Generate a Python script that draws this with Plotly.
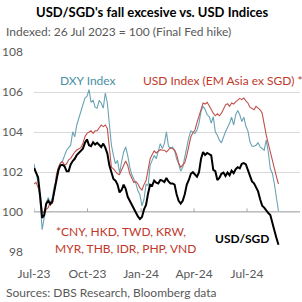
import plotly.graph_objects as go
import pandas as pd

# Observation dates: every 3.5 days starting 1 Jul 2023
dates = pd.date_range("2023-07-01", periods=121, freq="84h")

dxy = [102.41, 101.99, 101.48, 100.56, 99.12, 99.71, 100.47, 100.73, 100.39, 100.73,
       101.32, 101.57, 101.99, 102.45, 102.55, 102.88, 103.09, 103.22, 103.34, 104.01,
       103.76, 104.35, 104.69, 105.03, 105.28, 105.70, 105.78, 106.12, 105.48, 105.58,
       105.24, 105.19, 105.58, 105.45, 105.19, 105.95, 105.45, 104.44, 103.34, 102.83,
       102.41, 102.58, 101.94, 102.50, 103.00, 103.25, 102.83, 102.24, 101.87, 101.65,
       101.43, 101.06, 100.86, 100.30, 100.64, 101.40, 101.32, 102.33, 102.58, 102.83,
       102.66, 103.12, 103.42, 103.17, 103.42, 104.01, 103.29, 103.17, 103.25, 103.09,
       102.66, 102.41, 102.04, 102.24, 102.75, 103.22, 103.73, 104.06, 104.01, 103.93,
       104.10, 104.44, 105.03, 105.28, 105.14, 104.86, 104.77, 104.44, 104.77, 104.01,
       103.84, 103.59, 103.46, 103.80, 104.01, 104.23, 104.44, 104.74, 104.35, 104.86,
       105.08, 104.86, 104.52, 104.74, 104.30, 104.06, 103.51, 103.29, 103.29, 103.34,
       103.46, 103.25, 103.17, 103.09, 103.59, 103.00, 102.16, 101.94, 101.40, 100.81,
       100.05]

em_asia = [101.40, 101.48, 101.23, 100.89, 100.02, 99.97, 100.13, 100.22, 100.52, 100.42,
           101.06, 101.87, 102.24, 102.45, 102.51, 102.34, 102.41, 102.61, 102.68, 102.88,
           103.00, 103.10, 103.15, 103.22, 103.42, 103.76, 103.93, 104.01, 104.06, 103.93,
           104.06, 104.06, 104.23, 104.35, 104.27, 104.35, 104.18, 103.00, 102.24, 102.16,
           102.04, 101.91, 101.87, 102.07, 102.28, 102.55, 102.33, 101.91, 101.70, 101.48,
           101.53, 101.40, 101.20, 101.10, 101.37, 101.57, 102.11, 102.66, 102.88, 103.05,
           102.95, 103.02, 103.12, 103.09, 103.09, 103.00, 103.12, 103.22, 103.17, 103.09,
           102.88, 102.45, 102.24, 102.34, 102.45, 102.83, 103.34, 103.76, 103.96, 104.10,
           104.47, 104.81, 105.19, 105.45, 105.40, 105.48, 105.31, 105.11, 104.94, 104.81,
           104.91, 104.81, 104.94, 105.14, 105.36, 105.41, 105.28, 105.45, 105.40, 105.51,
           105.62, 105.68, 105.62, 105.70, 105.56, 105.45, 105.24, 105.16, 105.11, 105.28,
           105.18, 105.11, 104.94, 104.27, 103.84, 103.42, 103.00, 102.55, 102.04, 101.77,
           101.40]

usdsgd = [102.20, 101.94, 101.74, 100.81, 99.71, 99.85, 100.42, 100.56, 100.39, 100.52,
          101.10, 101.70, 102.11, 102.33, 102.36, 102.28, 102.04, 102.04, 102.38, 102.55,
          102.66, 102.85, 102.97, 103.07, 103.17, 103.46, 103.63, 103.34, 103.29, 103.49,
          103.37, 103.46, 103.36, 103.25, 103.42, 103.22, 102.92, 102.33, 101.99, 101.65,
          101.57, 101.37, 100.98, 101.10, 101.37, 101.16, 100.76, 100.56, 100.39, 100.19,
          99.92, 99.78, 99.65, 99.75, 100.13, 100.35, 100.93, 101.37, 101.32, 101.57,
          101.47, 101.43, 101.60, 101.57, 101.50, 101.70, 101.53, 101.43, 101.43, 101.37,
          100.89, 100.56, 100.42, 100.56, 100.89, 101.37, 101.60, 101.91, 101.99, 101.87,
          101.77, 101.99, 102.66, 103.00, 102.85, 102.95, 102.88, 102.83, 102.11, 102.04,
          101.60, 101.70, 101.91, 101.97, 101.80, 101.97, 101.84, 102.07, 101.94, 102.14,
          102.24, 102.18, 102.41, 102.45, 102.38, 102.07, 101.77, 101.53, 101.43, 101.23,
          101.03, 100.64, 100.32, 100.22, 100.05, 99.95, 99.85, 99.41, 99.07, 98.70,
          98.36]

tick_dates = ["2023-07-01", "2023-10-01", "2024-01-01", "2024-04-01", "2024-07-01"]
y_ticks = [98, 100, 102, 104, 106, 108]

FONT = "Lato"
GREY = "#595959"
BLUE_LINE = "#6BA3B5"
BLUE_TXT = "#4A8FA3"
RED_LINE = "#C0504D"
RED_TXT = "#C0392B"

W, H = 302, 302
L, R, T, B = 32, 2, 52, 50

fig = go.Figure()
fig.add_trace(go.Scatter(x=dates, y=dxy, mode="lines",
                         line=dict(color=BLUE_LINE, width=1.1), name="DXY Index"))
fig.add_trace(go.Scatter(x=dates, y=em_asia, mode="lines",
                         line=dict(color=RED_LINE, width=1.1), name="USD Index (EM Asia ex SGD)"))
fig.add_trace(go.Scatter(x=dates, y=usdsgd, mode="lines",
                         line=dict(color="#000000", width=2), name="USD/SGD"))

# baseline at 100 and its tick marks
fig.add_shape(type="line", xref="paper", yref="y", x0=0, x1=1, y0=100, y1=100,
              line=dict(color="#A6A6A6", width=1.5), layer="below")
for d in tick_dates:
    fig.add_shape(type="line", xref="x", yref="y", x0=d, x1=d, y0=100, y1=100.18,
                  line=dict(color="#A6A6A6", width=1), layer="below")

fig.update_layout(
    width=W, height=H,
    margin=dict(l=L, r=R, t=T, b=B),
    paper_bgcolor="white", plot_bgcolor="white",
    showlegend=False,
    font=dict(family=FONT, size=12, color=GREY),
    xaxis=dict(range=["2023-07-01", "2024-09-30"], tickformat="%b-%y",
               tickvals=tick_dates, showgrid=False, zeroline=False, showline=False,
               ticks="", ticklabelstandoff=13,
               tickfont=dict(family=FONT, size=12, color=GREY)),
    yaxis=dict(range=[98, 108], tickvals=y_ticks, showgrid=True, gridcolor="#D9D9D9",
               gridwidth=1, zeroline=False, showline=False, ticks="",
               ticklabelstandoff=10,
               tickfont=dict(family=FONT, size=12, color=GREY)),
)

annotations = [
    dict(text="<b>USD/SGD's fall excesive vs. USD Indices</b>", x=151, y=12, size=13, color="#000000", anchor="center"),
    dict(text="Indexed: 26 Jul 2023 = 100 (Final Fed hike)", x=2, y=32, size=12, color=GREY, anchor="left"),
    dict(text="DXY Index", x=86, y=80, size=12, color=BLUE_TXT, anchor="center"),
    dict(text="USD Index (EM Asia ex SGD) *", x=222, y=80, size=12, color=RED_TXT, anchor="center"),
    dict(text="*CNY, HKD, TWD, KRW,", x=52, y=231, size=12, color=RED_TXT, anchor="left"),
    dict(text="MYR, THB, IDR, PHP, VND", x=51, y=248, size=12, color=RED_TXT, anchor="left"),
    dict(text="<b>USD/SGD</b>", x=242, y=238, size=12, color="#000000", anchor="center"),
    dict(text="Sources: DBS Research, Bloomberg data", x=2, y=292, size=12, color=GREY, anchor="left"),
]
for a in annotations:
    fig.add_annotation(text=a["text"],
                       x=(a["x"] - L) / (W - L - R), y=(H - B - a["y"]) / (H - T - B),
                       xref="paper", yref="paper", showarrow=False,
                       xanchor=a["anchor"], yanchor="middle",
                       font=dict(family=FONT, size=a["size"], color=a["color"]))

fig.write_html("out.html")
